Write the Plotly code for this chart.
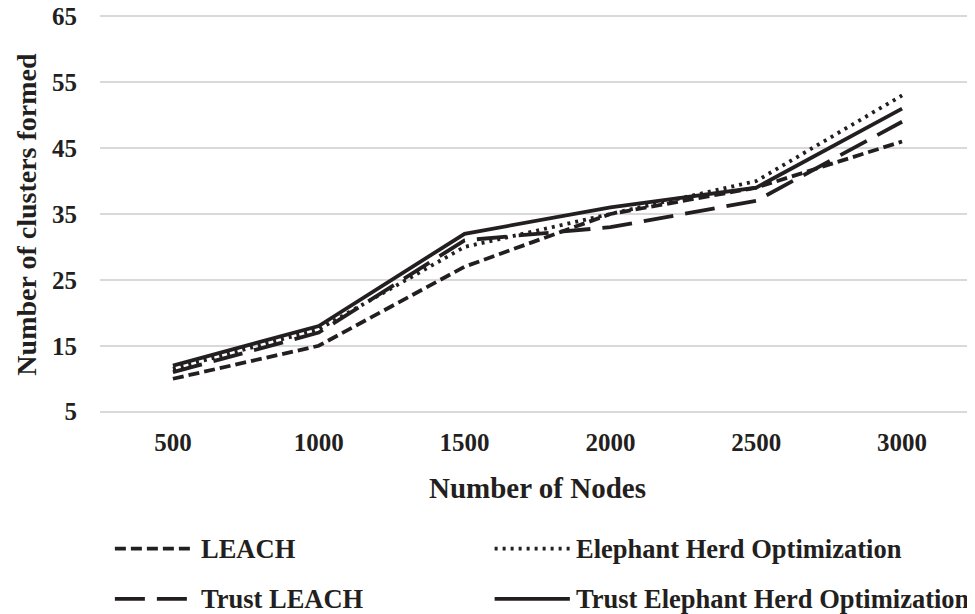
import plotly.graph_objects as go

# data
nodes = ["500", "1000", "1500", "2000", "2500", "3000"]
leach = [10, 15, 27, 35, 39, 46]
trust_leach = [11, 17, 31, 33, 37, 49]
eho = [11.5, 17.5, 30, 35, 40, 53]
trust_eho = [12, 18, 32, 36, 39, 51]
y_ticks = [5, 15, 25, 35, 45, 55, 65]

series_names = ["LEACH", "Elephant Herd Optimization", "Trust LEACH", "Trust Elephant Herd Optimization"]
series_vals = [leach, eho, trust_leach, trust_eho]
series_dash = ["11px,5px", "3px,5px", "30px,12px", "solid"]

FONT = "Liberation Serif"
INK = "#231f20"
LW = 3.8

fig = go.Figure()
for name, vals, dash in zip(series_names, series_vals, series_dash):
    fig.add_trace(go.Scatter(
        x=nodes, y=vals, name=name, mode="lines",
        line=dict(color=INK, width=LW, dash=dash),
        showlegend=False,
    ))

# hand-made legend (long sample lines like the original)
legend_pos = [(0.017, 0.108, -0.341), (0.451, 0.537, -0.341),
              (0.017, 0.108, -0.467), (0.451, 0.537, -0.467)]
for (x0, x1, yy), name, dash in zip(legend_pos, series_names, series_dash):
    fig.add_shape(type="line", xref="paper", yref="paper", x0=x0, x1=x1, y0=yy, y1=yy,
                  line=dict(color=INK, width=LW, dash=dash))
    fig.add_annotation(xref="paper", yref="paper", x=x1 + 0.005, y=yy, text="<b>%s</b>" % name,
                       showarrow=False, xanchor="left", yanchor="middle",
                       font=dict(family=FONT, size=26.5, color=INK))

# y title as annotation so it can sit close to the left edge
fig.add_annotation(xref="paper", yref="paper", x=-0.105, y=0.5, textangle=-90,
                   text="<b>Number of clusters formed</b>", showarrow=False,
                   xanchor="left", yanchor="middle",
                   font=dict(family=FONT, size=28, color=INK))

# page body has an 8px margin, so the figure is a bit smaller than the window
fig.update_layout(
    width=967, height=606,
    margin=dict(l=92, r=0, t=7, b=201),
    plot_bgcolor="white", paper_bgcolor="white",
    font=dict(family=FONT, color=INK),
    showlegend=False,
)
fig.update_xaxes(
    type="category", range=[-0.5, 5.5], automargin=False,
    showgrid=False, showline=False, zeroline=False,
    tickvals=nodes, ticktext=["<b>%s</b>" % n for n in nodes],
    tickfont=dict(family=FONT, size=25, color=INK),
    ticklabelstandoff=12,
    title=dict(text="<b>Number of Nodes</b>", font=dict(family=FONT, size=29, color=INK), standoff=22),
)
fig.update_yaxes(
    range=[4.8, 65.2], automargin=False,
    tickvals=y_ticks, ticktext=["<b>%d</b>" % v for v in y_ticks],
    showgrid=True, gridcolor="#d9d9d9", gridwidth=1.5,
    showline=False, zeroline=False,
    tickfont=dict(family=FONT, size=25, color=INK),
    ticklabelstandoff=22, ticklabeloverflow="allow",
)

fig.write_html("out.html")
